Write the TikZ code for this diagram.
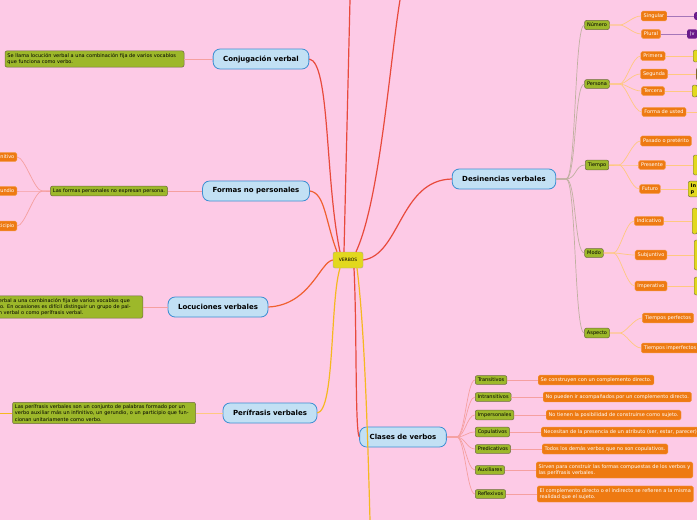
\documentclass[tikz,border=0pt]{standalone}
\usepackage{fontspec}
\setmainfont{DejaVu Sans}
\definecolor{bg}{HTML}{FDCAE6}
\definecolor{gr}{HTML}{9DB82A}
\definecolor{grbd}{HTML}{6E6A40}
\definecolor{org}{HTML}{EE7A12}
\definecolor{lb}{HTML}{C2E0F4}
\definecolor{lbb}{HTML}{3B8ED2}
\definecolor{yl}{HTML}{E2D81E}
\definecolor{pu}{HTML}{6A1A8A}
\definecolor{lred}{HTML}{E84A3C}
\definecolor{lor}{HTML}{F06030}
\definecolor{lyel}{HTML}{F5B820}
\definecolor{lpink}{HTML}{F5A0A0}
\definecolor{lpeach}{HTML}{FFC880}
\definecolor{ltan}{HTML}{C0B0A0}
\tikzset{
 mainb/.style={draw=lbb,fill=lb,rounded corners=7pt,line width=0.8pt,minimum height=20pt,font=\fontsize{7}{8}\selectfont\bfseries,inner xsep=10pt},
 grbox/.style={draw=grbd,fill=gr,rounded corners=2pt,line width=0.5pt,font=\fontsize{5}{6.2}\selectfont,inner sep=2.5pt,align=left},
 orb/.style={draw=org!80!white,fill=org,rounded corners=1.5pt,text=white,font=\fontsize{5}{6.2}\selectfont,inner sep=2.5pt,align=left},
 ylb/.style={draw=grbd,fill=yl,rounded corners=2pt,font=\fontsize{5}{6.2}\selectfont,inner sep=2.5pt},
 pub/.style={fill=pu,rounded corners=2pt,text=white,font=\fontsize{5}{6.2}\selectfont,inner sep=2.5pt},
 thick1/.style={line width=1.2pt},
 thin1/.style={line width=0.7pt},
}
\begin{document}
\begin{tikzpicture}[x=1pt,y=-1pt]
\path[use as bounding box,fill=bg] (0,0) rectangle (697,520);
\clip (0,0) rectangle (697,520);
% central
\node[draw=grbd!60,fill=yl,rounded corners=2pt,font=\fontsize{4.5}{5}\selectfont,minimum width=30pt,minimum height=16pt,inner sep=1pt] (v) at (348,260) {VERBOS};
\node[mainb] (conj) at (261,59) {Conjugación verbal};
\node[mainb] (fnp) at (256,191) {Formas no personales};
\node[mainb] (loc) at (218,307) {Locuciones verbales};
\node[mainb] (per) at (270,413) {Perífrasis verbales};
\node[mainb] (des) at (504,179) {Desinencias verbales};
\node[mainb] (cla) at (403,437) {Clases de verbos};
\coordinate (o1) at (350,0);
\coordinate (o2) at (400,0);
\coordinate (o3) at (370,520);
% main connectors
\draw[lred,thick1] ([xshift=-8pt]v.north) .. controls (325,180) and (330,62) .. (conj.east);
\draw[lor,thick1] ([xshift=-11pt]v.north) .. controls (325,220) and (325,193) .. (fnp.east);
\draw[lor,thick1] (v.west) .. controls (320,262) and (310,305) .. (loc.east);
\draw[lyel,thick1] ([xshift=-8pt]v.south) .. controls (330,300) and (335,410) .. (per.east);
\draw[lred,thick1] (v.east) .. controls (400,255) and (400,180) .. (des.west);
\draw[lred,thick1] ([xshift=6pt]v.south) .. controls (357,330) and (355,430) .. (cla.west);
\draw[lred,thick1] ([xshift=-4pt]v.north) -- (o1);
\draw[lred,thick1] ([xshift=8pt]v.north) .. controls (380,200) and (390,60) .. (o2);
\draw[lyel,thick1] ([xshift=9pt]v.south) .. controls (365,330) and (368,450) .. (o3);
% left side
\node[grbox,text width=174pt] (cd) at (94.5,59) {Se llama locución verbal a una combinación fija de varios vocablos que funciona como verbo.};
\draw[lpink,thin1] (conj.west) -- (cd.east);
\node[grbox] (fd) at (109,191) {Las formas personales no expresan persona.};
\draw[lpink,thin1] (fnp.west) -- (fd.east);
\node[orb,anchor=east] (inf) at (17,157) {Infinitivo};
\node[orb,anchor=east] (ger) at (17,191) {Gerundio};
\node[orb,anchor=east] (par) at (17,226) {Participio};
\foreach \n in {inf,ger,par} \draw[lpink,thin1] (fd.west) -- ++(-8,0) .. controls +(-8,0) and +(8,0) .. (\n.east);
\node[grbox,text width=190pt,anchor=east] (ld) at (143,307) {Se llama locución verbal a una combinación fija de varios vocablos que funciona como verbo. En ocasiones es difícil distinguir un grupo de palabras como locución verbal o como perífrasis verbal.};
\draw[lpink,thin1] (loc.west) -- (ld.east);
\node[grbox,text width=178pt] (pd) at (104,413) {Las perífrasis verbales son un conjunto de palabras formado por un verbo auxiliar más un infinitivo, un gerundio, o un participio que funcionan unitariamente como verbo.};
\draw[lpeach,thin1] (per.west) -- (pd.east);
\coordinate (pdx) at (0,413);
\draw[lyel,thin1] (pd.west) -- (pdx);
% Desinencias
\node[grbox] (num) at (597,25) {Número};
\node[grbox] (pers) at (597,84) {Persona};
\node[grbox] (tie) at (597,165) {Tiempo};
\node[grbox] (mod) at (594,253) {Modo};
\node[grbox] (asp) at (597,333) {Aspecto};
\foreach \n in {num,pers,tie,mod,asp}
  \draw[ltan,thin1] (des.east) -- ++(10,0) .. controls +(10,0) and +(-10,0) .. (\n.west);
\node[orb] (sg) at (654,16) {Singular};
\node[orb] (pl) at (651,34) {Plural};
\node[orb] (pr) at (653,56) {Primera};
\node[orb] (se) at (654,74) {Segunda};
\node[orb] (te) at (653,91) {Tercera};
\node[orb] (fu) at (664,112) {Forma de usted};
\node[orb] (pa) at (666,141) {Pasado o pretérito};
\node[orb] (pre) at (652,165) {Presente};
\node[orb] (fut) at (650,189) {Futuro};
\node[orb] (ind) at (649,221) {Indicativo};
\node[orb] (sub) at (651,255) {Subjuntivo};
\node[orb] (imp) at (651,286) {Imperativo};
\node[orb] (tp) at (668,318) {Tiempos perfectos};
\node[orb] (ti) at (670,348) {Tiempos imperfectos};
\foreach \a/\l in {num/{sg,pl},pers/{pr,se,te,fu},tie/{pa,pre,fut},mod/{ind,sub,imp},asp/{tp,ti}}
  \foreach \b in \l \draw[lpeach,thin1] (\a.east) -- ++(10,0) .. controls +(6,0) and +(-8,0) .. (\b.west);
% cut-off right boxes
\node[pub,anchor=west] (sgx) at (694,16) {x};
\node[pub,anchor=west] (plx) at (687,34) {(v};
\node[ylb,anchor=west,minimum height=12pt] (prx) at (693,56) {};
\node[ylb,anchor=west,fill=brown!70!black,minimum height=12pt] (sex) at (696,74) {};
\node[ylb,anchor=west,minimum height=12pt] (tex) at (692,91) {};
\node[ylb,anchor=west,minimum height=20pt] (prex) at (693,165) {};
\node[ylb,anchor=west,align=left,font=\fontsize{5}{6}\selectfont\bfseries] (futx) at (688,189) {In\\p};
\node[ylb,anchor=west,minimum height=26pt] (indx) at (692,221) {};
\node[ylb,anchor=west,minimum height=30pt] (subx) at (694,255) {};
\node[ylb,anchor=west,minimum height=18pt] (impx) at (694,286) {};
\draw[pu!60,thin1] (sg.east) -- (sgx.west);
\draw[pu!60,thin1] (pl.east) -- (plx.west);
\foreach \a in {pr,se,te,pre,fut,ind,sub,imp} \draw[lpeach,thin1] (\a.east) -- (\a x.west);
\coordinate (fux) at (697,112);
\draw[lpeach,thin1] (fu.east) -- (fux);
% Clases
\node[grbox,anchor=west] (c1) at (475,380) {Transitivos};
\node[grbox,anchor=west] (c2) at (475,397) {Intransitivos};
\node[grbox,anchor=west] (c3) at (475,415) {Impersonales};
\node[grbox,anchor=west] (c4) at (475,432) {Copulativos};
\node[grbox,anchor=west] (c5) at (475,449) {Predicativos};
\node[grbox,anchor=west] (c6) at (475,470) {Auxiliares};
\node[grbox,anchor=west] (c7) at (475,494) {Reflexivos};
\node[orb,anchor=west] (d1) at (538,380) {Se construyen con un complemento directo.};
\node[orb,anchor=west] (d2) at (543,397) {No pueden ir acompañados por un complemento directo.};
\node[orb,anchor=west] (d3) at (546,415) {No tienen la posibilidad de construirse como sujeto.};
\node[orb,anchor=west] (d4) at (541,432) {Necesitan de la presencia de un atributo (ser, estar, parecer).};
\node[orb,anchor=west] (d5) at (542,449) {Todos los demás verbos que no son copulativos.};
\node[orb,anchor=west] (d6) at (536,470) {Sirven para construir las formas compuestas de los verbos y\\las perífrasis verbales.};
\node[orb,anchor=west] (d7) at (537,494) {El complemento directo o el indirecto se refieren a la misma\\realidad que el sujeto.};
\foreach \i in {1,...,7} {
  \draw[lpink,thin1] (cla.east) -- ++(10,0) .. controls +(8,0) and +(-8,0) .. (c\i.west);
  \draw[lpink,thin1] (c\i.east) -- (d\i.west);
}
\end{tikzpicture}
\end{document}
